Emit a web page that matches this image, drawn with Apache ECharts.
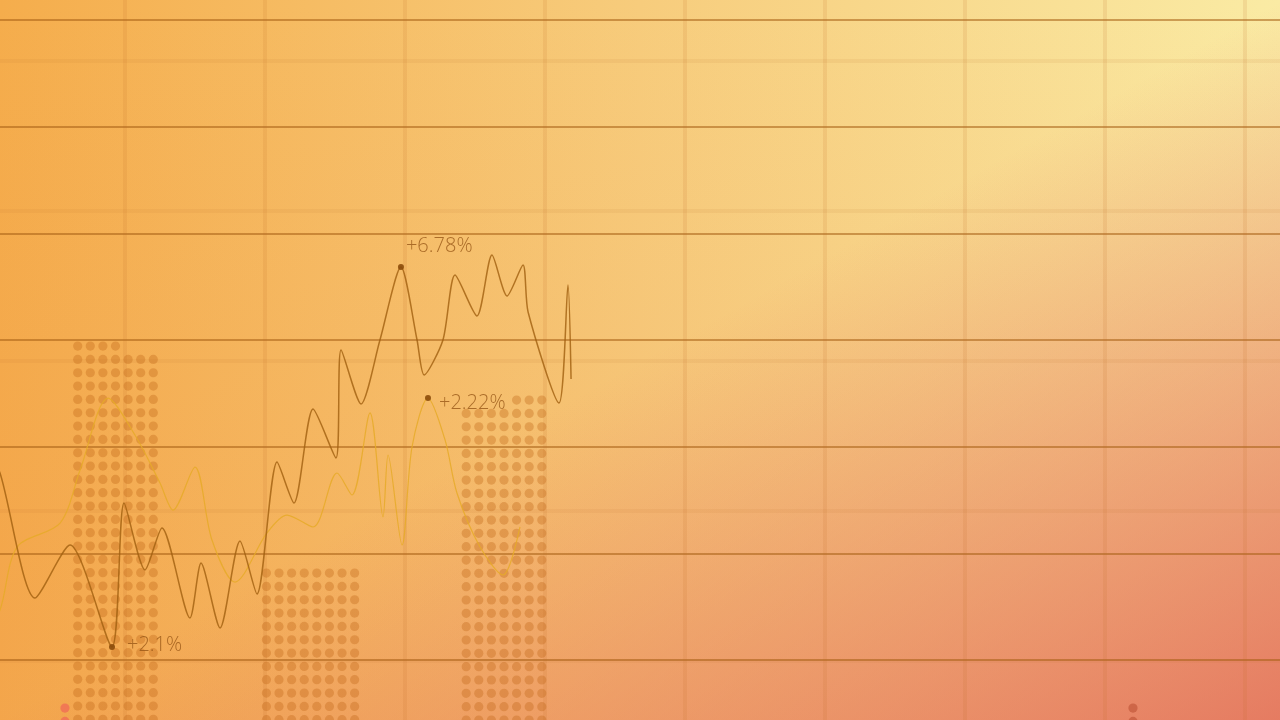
<!DOCTYPE html>
<html>
<head>
<meta charset="utf-8">
<script src="https://cdn.jsdelivr.net/npm/echarts@6/dist/echarts.min.js"></script>
<style>
html,body{margin:0;padding:0;width:1280px;height:720px;overflow:hidden;}
#chart{width:1280px;height:720px;}
</style>
</head>
<body>
<div id="chart"></div>
<script>
// ---- data (x: time index in days, y: index level) ----
const xMin = 0, xMax = 91.43;
const yMin = 0, yMax = 60, yStep = 10;

const lineA = [
  [-1.07, 20.0], [0, 17.53], [2.5, 5.81], [5.0, 10.78], [8.0, 1.22], [8.86, 14.72],
  [10.36, 8.44], [11.57, 12.38], [13.57, 3.94], [14.36, 9.09], [15.72, 3.0],
  [17.14, 11.16], [18.36, 6.19], [19.79, 18.56], [21.0, 14.72], [22.36, 23.53],
  [24.0, 18.94], [24.36, 29.06], [25.79, 24.0], [27.14, 30.0], [28.64, 36.84],
  [29.79, 30.0], [30.29, 26.72], [31.64, 30.0], [32.5, 36.09], [34.07, 32.25],
  [35.14, 37.97], [36.22, 34.13], [37.36, 37.03], [37.72, 32.63], [39.93, 24.09],
  [40.57, 35.16], [40.79, 26.34]
];
const lineB = [
  [-1.07, 2.5], [0, 4.69], [1.22, 10.59], [4.29, 12.84], [5.72, 17.81], [7.72, 24.56],
  [9.64, 21.09], [11.43, 16.59], [12.36, 14.06], [13.93, 18.09], [15.14, 11.25],
  [16.79, 7.31], [19.07, 11.91], [20.5, 13.59], [22.36, 12.47], [24.07, 17.53],
  [25.14, 15.47], [26.43, 23.16], [27.36, 13.41], [27.72, 19.22], [28.72, 10.78],
  [29.43, 19.97], [30.57, 24.56], [31.79, 20.63], [32.64, 15.66], [34.29, 10.59],
  [35.93, 7.97], [37.14, 12.47]
];
const markA = [4, 20];
const markAText = ['+2.1%', '+6.78%'];
const markB = [22];
const markBText = ['+2.22%'];

const barX = [8.25, 22.18, 36.0];
const barTop = [29.86, 8.58, 24.8];
const barCols = [7, 8, 7];
const barPartial = [4, 0, 3];
const barAlignRight = [0, 0, 1];

const accentX = [4.64, 80.93];
const accentTop = [-4.08, -4.08];

const weekMin = 0, weekMax = 8, weekStep = 1;
const bandMin = 0, bandMax = 4, bandStep = 1;

// ---- styles ----
const dotColor = 'rgba(190,100,20,0.34)';
const accentColors = ['rgba(240,105,85,0.75)', 'rgba(175,65,35,0.45)'];
const lineAColor = 'rgba(160,95,15,0.8)';
const lineBColor = 'rgba(230,170,40,0.85)';
const markColor = 'rgba(140,75,10,0.9)';
const labelColor = 'rgba(150,85,20,0.78)';

const labelCfg = [
  { position: 'right', distance: 12, offset: [0, -2] },
  { position: 'right', distance: 2, offset: [0, -21] },
  { position: 'right', distance: 8, offset: [0, 5] }
];

function buildLine(points, marks, texts, cfgStart) {
  return points.map((p, i) => {
    const k = marks.indexOf(i);
    if (k < 0) return { value: p };
    const c = labelCfg[cfgStart + k];
    return {
      value: p,
      symbol: 'circle',
      symbolSize: 6,
      itemStyle: { color: markColor },
      label: {
        show: true, formatter: texts[k], position: c.position, distance: c.distance,
        offset: c.offset, color: labelColor, fontSize: 20, fontFamily: 'Open Sans',
        fontWeight: 300
      }
    };
  });
}

function dotBars(params, api) {
  const xv = api.value(0), top = api.value(1);
  const cols = api.value(2), partial = api.value(3), right = api.value(4);
  const c = api.coord([xv, top]);
  const px = 12.6, py = 13.33, r = 4.6;
  const fill = api.visual('color');
  const left = c[0] - (cols - 1) / 2 * px;
  const children = [];
  let row = 0;
  for (let cy = c[1] + r; cy < api.getHeight() + 10; cy += py, row++) {
    let start = 0, end = cols;
    if (row === 0 && partial > 0) {
      if (right) { start = cols - partial; } else { end = partial; }
    }
    for (let j = start; j < end; j++) {
      children.push({ type: 'circle', shape: { cx: left + j * px, cy: cy, r: r }, style: { fill: fill } });
    }
  }
  return { type: 'group', children: children };
}

const hidden = { axisLine: { show: false }, axisTick: { show: false }, axisLabel: { show: false } };

const chart = echarts.init(document.getElementById('chart'), null, { renderer: 'canvas' });
chart.setOption({
  animation: false,
  backgroundColor: {
    type: 'linear', x: 0, y: 0, x2: 1, y2: 0,
    colorStops: [
      { offset: 0, color: '#f5ad4c' },
      { offset: 0.5, color: '#f7cc7c' },
      { offset: 1, color: '#faeba4' }
    ]
  },
  graphic: [
    {
      type: 'rect', z: -20, silent: true,
      shape: { x: 0, y: 0, width: 1280, height: 720 },
      style: {
        fill: {
          type: 'linear', x: 0, y: 0, x2: 0, y2: 1,
          colorStops: [
            { offset: 0, color: 'rgba(235,130,70,0)' },
            { offset: 1, color: 'rgba(235,130,70,0.18)' }
          ]
        }
      }
    },
    {
      type: 'rect', z: -19, silent: true,
      shape: { x: 0, y: 0, width: 1280, height: 720 },
      style: {
        fill: {
          type: 'linear', x: 0.5, y: 0.5, x2: 0.74, y2: 1.26,
          colorStops: [
            { offset: 0, color: 'rgba(225,100,85,0)' },
            { offset: 1, color: 'rgba(225,100,85,0.8)' }
          ]
        }
      }
    }
  ],
  grid: [
    { left: 0, right: 0, top: 20, bottom: 60 },
    { left: 0, right: 0, top: 61, bottom: 59 },
    { left: 125, right: 35, top: 0, bottom: 0 }
  ],
  xAxis: [
    Object.assign({ type: 'value', gridIndex: 0, min: xMin, max: xMax, splitLine: { show: false } }, hidden),
    { type: 'value', gridIndex: 1, min: 0, max: 1, show: false },
    Object.assign({
      type: 'value', gridIndex: 2, min: weekMin, max: weekMax, interval: weekStep,
      splitLine: { show: true, lineStyle: { color: 'rgba(190,110,40,0.13)', width: 4 } }
    }, hidden)
  ],
  yAxis: [
    Object.assign({
      type: 'value', gridIndex: 0, min: yMin, max: yMax, interval: yStep,
      splitLine: { show: true, lineStyle: { color: 'rgba(165,95,20,0.55)', width: 2 } }
    }, hidden),
    Object.assign({
      type: 'value', gridIndex: 1, min: bandMin, max: bandMax, interval: bandStep,
      splitLine: { show: true, lineStyle: { color: 'rgba(190,110,40,0.09)', width: 4 } }
    }, hidden),
    { type: 'value', gridIndex: 2, min: 0, max: 1, show: false }
  ],
  series: [
    {
      type: 'custom', name: 'volume', xAxisIndex: 0, yAxisIndex: 0, z: 1,
      renderItem: dotBars, clip: false,
      itemStyle: { color: dotColor },
      encode: { x: 0, y: 1 },
      data: barX.map((x, i) => [x, barTop[i], barCols[i], barPartial[i], barAlignRight[i]])
    },
    {
      type: 'custom', name: 'accent', xAxisIndex: 0, yAxisIndex: 0, z: 1,
      renderItem: dotBars, clip: false,
      encode: { x: 0, y: 1 },
      data: accentX.map((x, i) => ({ value: [x, accentTop[i], 1, 0, 0], itemStyle: { color: accentColors[i] } }))
    },
    {
      type: 'line', name: 'B', xAxisIndex: 0, yAxisIndex: 0, z: 3,
      smooth: 0.3, symbol: 'none', clip: false,
      lineStyle: { color: lineBColor, width: 1.2 },
      data: buildLine(lineB, markB, markBText, 2)
    },
    {
      type: 'line', name: 'A', xAxisIndex: 0, yAxisIndex: 0, z: 4,
      smooth: 0.25, symbol: 'none', clip: false,
      lineStyle: { color: lineAColor, width: 1.5 },
      data: buildLine(lineA, markA, markAText, 0)
    }
  ]
});
</script>
</body>
</html>
